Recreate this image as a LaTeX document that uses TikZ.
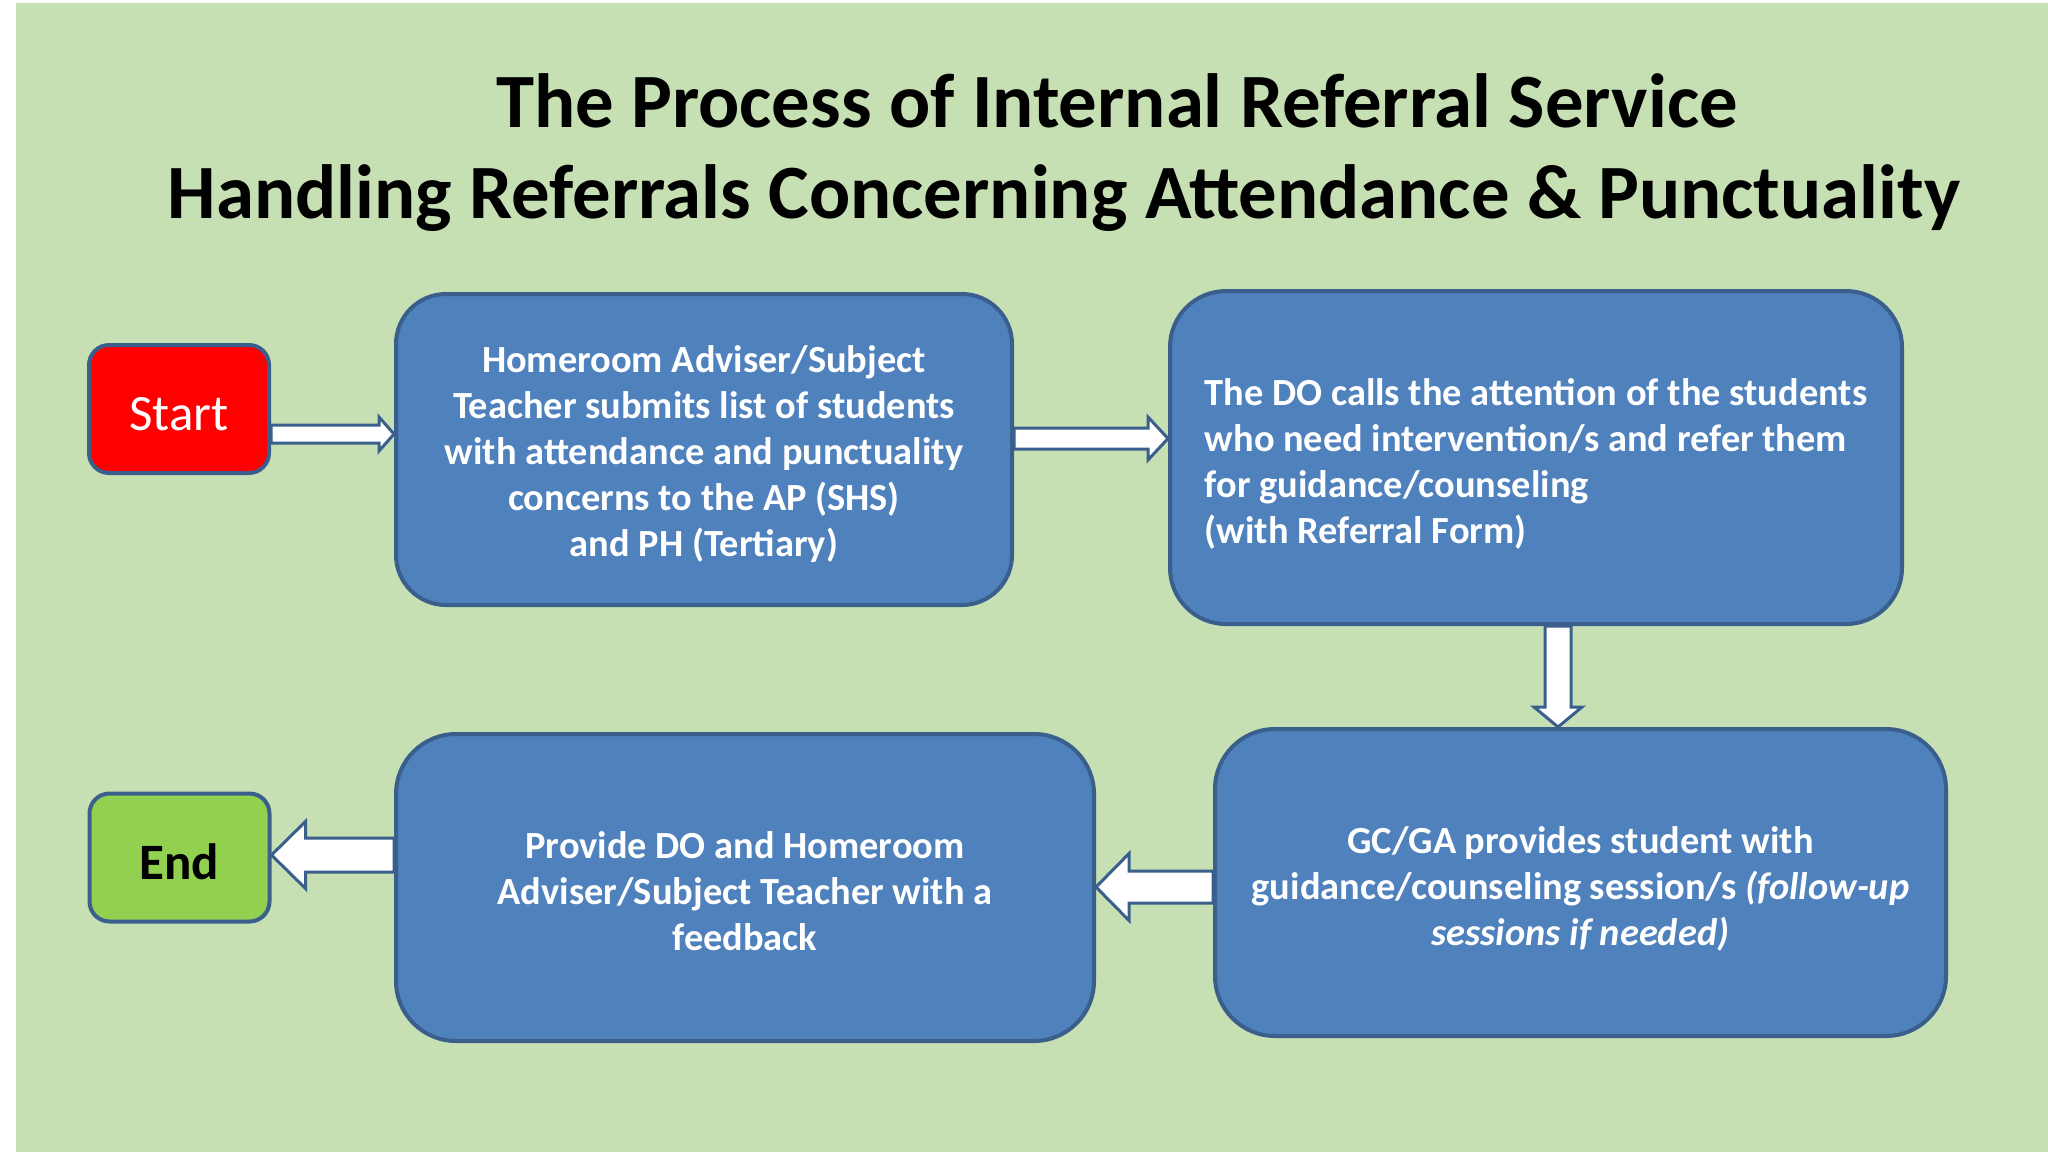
\documentclass[tikz,border=0pt]{standalone}
\usepackage{fontspec}
\setmainfont{Carlito}
\usetikzlibrary{calc}
\definecolor{bggreen}{HTML}{C6E0B4}
\definecolor{boxblue}{HTML}{4F81BD}
\definecolor{edgeblue}{HTML}{3A5F8C}
\definecolor{startred}{HTML}{FF0000}
\definecolor{endgreen}{HTML}{92D050}
\tikzset{
  box/.style={draw=edgeblue, line width=2pt, fill=boxblue, inner sep=0pt},
  boxtext/.style={text=white, font=\fontsize{19.2}{23}\selectfont\bfseries, align=center, inner sep=0pt},
  term/.style={draw=edgeblue, line width=2pt, rounded corners=10pt,
    minimum width=90pt, minimum height=64pt, inner sep=0pt},
  termtext/.style={inner sep=0pt, font=\fontsize{25.5}{30}\selectfont},
  blockarrow/.style={draw=edgeblue, line width=1.5pt, fill=white, line join=miter},
  titletext/.style={font=\fontsize{38.4}{45}\selectfont\bfseries, anchor=base, inner sep=0pt}
}
% horizontal block arrow: tail coord, tip coord, shaft half, head half, head length (signed)
\newcommand\harrow[5]{\draw[blockarrow] let \p1=(#1), \p2=(#2) in
  ({\x1},{\y1+#3}) -- ({\x2-(#5)},{\y1+#3}) -- ({\x2-(#5)},{\y1+#4}) -- ({\x2},{\y1})
  -- ({\x2-(#5)},{\y1-#4}) -- ({\x2-(#5)},{\y1-#3}) -- ({\x1},{\y1-#3}) -- cycle;}
% vertical (downward) block arrow
\newcommand\varrow[5]{\draw[blockarrow] let \p1=(#1), \p2=(#2) in
  ({\x1+#3},{\y1}) -- ({\x1+#3},{\y2+#5}) -- ({\x1+#4},{\y2+#5}) -- ({\x1},{\y2})
  -- ({\x1-#4},{\y2+#5}) -- ({\x1-#3},{\y2+#5}) -- ({\x1-#3},{\y1}) -- cycle;}
\begin{document}
\begin{tikzpicture}[x=0.5pt,y=-0.5pt]
\useasboundingbox (0,0) rectangle (2048,1152);
\fill[white] (0,0) rectangle (2048,1152);
\fill[bggreen] (16,3) rectangle (2048,1152);

\node[titletext] (t1) at (1117,127) {The Process of Internal Referral Service};
\node[titletext] (t2) at (1064,218) {Handling Referrals Concerning Attendance \& Punctuality};

\node[term, fill=startred] (start) at (179,409) {};
\node[termtext, text=white] (startt) at ($(start)+(0,5)$) {Start};
\node[term, fill=endgreen] (end) at (179.5,857.5) {};
\node[termtext, text=black, font=\fontsize{25.5}{30}\selectfont\bfseries] (endt) at ($(end)+(0,4)$) {End};

\node[box, rounded corners=25pt, minimum width=308pt, minimum height=155.5pt] (b1) at (704,449.5) {};
\node[boxtext] (b1t) at ($(b1)+(0,5)$)
  {Homeroom Adviser/Subject\\Teacher submits list of students\\with attendance and punctuality\\concerns to the AP (SHS)\\and PH (Tertiary)};
\node[box, rounded corners=28pt, minimum width=366pt, minimum height=166.5pt] (b2) at (1536,457.5) {};
\node[boxtext, align=left] (b2t) at ($(b2)+(0,6.5)$)
  {The DO calls the attention of the students\\who need intervention/s and refer them\\for guidance/counseling\\(with Referral Form)};
\node[box, rounded corners=30pt, minimum width=365.5pt, minimum height=153.5pt] (b3) at (1580.5,882.5) {};
\node[boxtext] (b3t) at ($(b3)+(0,6.5)$)
  {GC/GA provides student with\\guidance/counseling session/s \textit{(follow-up}\\\textit{sessions if needed)}};
\node[box, rounded corners=30pt, minimum width=349pt, minimum height=153.5pt] (b4) at (745,887.5) {};
\node[boxtext] (b4t) at ($(b4)+(0,4)$)
  {Provide DO and Homeroom\\Adviser/Subject Teacher with a\\feedback};

\coordinate (a1s) at ($(start.east)+(0,25)$);
\coordinate (a2s) at ($(b1.east)+(0,-11)$);
\coordinate (a3s) at ($(b2.south)+(22,0)$);
\coordinate (a4s) at ($(b3.west)+(0,4.5)$);
\coordinate (a5s) at ($(b4.west)+(0,-32.5)$);

\harrow{a1s}{b1.west}{4.5pt}{8.5pt}{7.5pt}
\harrow{a2s}{b2.west}{5.25pt}{10.75pt}{10pt}
\varrow{a3s}{b3.north}{6.5pt}{12pt}{10pt}
\harrow{a4s}{b4.east}{8pt}{16.75pt}{-16.5pt}
\harrow{a5s}{end.east}{8.5pt}{16.75pt}{-17pt}
\end{tikzpicture}
\end{document}
